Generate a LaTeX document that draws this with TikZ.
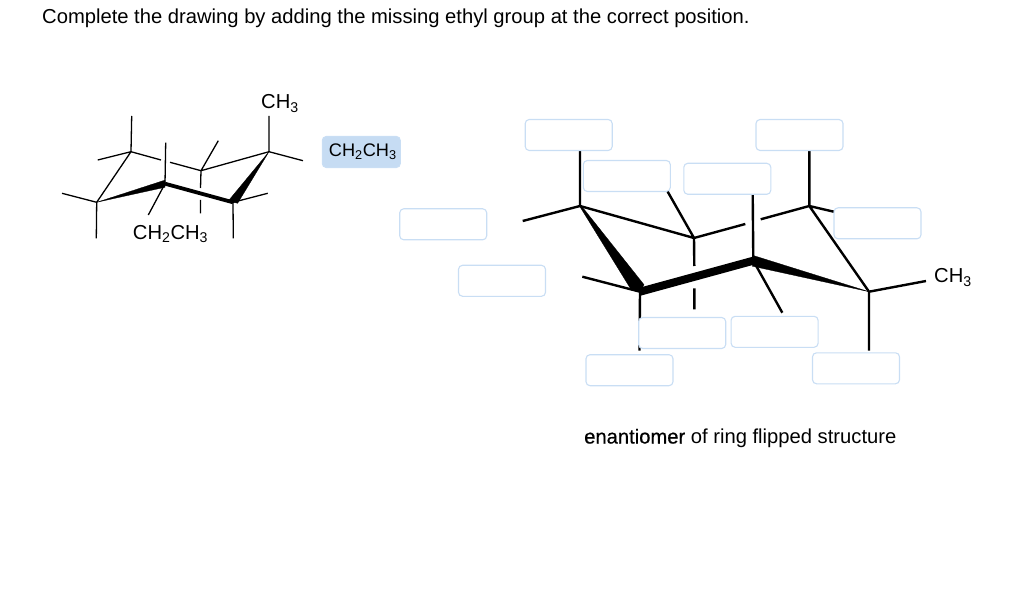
\documentclass[tikz,border=0pt]{standalone}
\usepackage{fontspec}
\setmainfont{Liberation Sans}
\usetikzlibrary{calc}
\definecolor{slotline}{HTML}{C9DEF4}
\definecolor{chipfill}{HTML}{C6DCF3}
\tikzset{
  x=1pt,y=-1pt,
  slot/.style={draw=slotline,line width=1.1pt,fill=white,rounded corners=4pt,minimum width=87pt,minimum height=31pt,inner sep=0pt},
  chip/.style={draw=slotline,line width=1.1pt,fill=chipfill,rounded corners=4pt,minimum width=78pt,minimum height=31pt,inner sep=0pt,font=\fontsize{18.2}{20}\selectfont},
  lbl/.style={inner sep=0pt,font=\fontsize{20.2}{22}\selectfont},
  small/.style={line width=1.3pt,black},
  big/.style={line width=2.4pt,black},
  solidbond/.style={fill=black,draw=black,line width=.3pt,line join=round}
}
\begin{document}
\begin{tikzpicture}
\useasboundingbox (0,0) rectangle (1024,609);
\node[anchor=base west,inner sep=0pt,font=\fontsize{20.2}{22}\selectfont] (title) at (42,24) {Complete the drawing by adding the missing ethyl group at the correct position.};
% left molecule atoms
\coordinate (A) at (131,151.7);
\coordinate (B) at (96.7,202.3);
\coordinate (C) at (165,183.7);
\coordinate (D) at (233,202.3);
\coordinate (E) at (269,151.7);
\coordinate (F) at (201,170.7);
\coordinate (Aup) at (131.7,116);
\coordinate (Al) at (97.7,160);
\coordinate (Ar) at (161,160);
\coordinate (Bl) at (62,193.3);
\coordinate (Bd) at (96.3,238.3);
\coordinate (Cu) at (165.7,142.7);
\coordinate (Cd) at (148.3,215);
\coordinate (Dd) at (233.3,238.3);
\coordinate (Dr) at (267.7,193.3);
\coordinate (Eu) at (269,116);
\coordinate (Er) at (303,160.7);
\coordinate (Fu) at (218.3,140.7);
\coordinate (Fl) at (170,162.3);
\coordinate (Fa) at (200.5,188);
\coordinate (Fb) at (200.5,200);
\coordinate (Fc) at (200.5,213.3);
\draw[small] (A)--(Aup) (A)--(Al) (A)--(Ar) (A)--(B) (B)--(Bl) (B)--(Bd)
  (C)--(Cu) (C)--(Cd) (D)--(Dd) (D)--(Dr) (E)--(Eu) (E)--(Er) (E)--(F)
  (F)--(Fu) (F)--(Fl) (F)--(Fa) (Fb)--(Fc);
\fill[solidbond] (B) -- ($(C)+(0,-3.6)$) -- ($(C)+(0,3.6)$) -- cycle;
\fill[solidbond] (E) -- ($(D)+(-4.6,-1.5)$) -- ($(D)+(4.6,1)$) -- cycle;
\draw[line width=3.8pt,black] (C)--(D);
\node[lbl] (lch3) at (280,103.5) {CH\textsubscript{3}};
\node[lbl] (lethyl) at (170.5,234) {CH\textsubscript{2}CH\textsubscript{3}};
% right molecule atoms
\coordinate (G) at (580,206);
\coordinate (H) at (694,238);
\coordinate (J) at (640,291.7);
\coordinate (K) at (753.3,260.7);
\coordinate (L) at (869,291.7);
\coordinate (M) at (809.3,206);
\coordinate (Gu) at (580,150);
\coordinate (Gl) at (522.7,221);
\coordinate (Hu) at (667.3,191);
\coordinate (Hr) at (745.3,224);
\coordinate (Ha) at (694.3,266);
\coordinate (Hb) at (694.3,288.3);
\coordinate (Hc) at (694.3,309.3);
\coordinate (Jl) at (582.3,276.7);
\coordinate (Jd) at (639.5,350.7);
\coordinate (Ku) at (752.7,194);
\coordinate (Kd) at (782.3,312.7);
\coordinate (Lr) at (926,281);
\coordinate (Ld) at (869,350.7);
\coordinate (Mu) at (809.3,150);
\coordinate (Ml) at (760.7,219.3);
\coordinate (Mr) at (835,212);
\draw[big] (G)--(Gu) (G)--(Gl) (G)--(H) (H)--(Hu) (H)--(Hr) (H)--(Ha) (Hb)--(Hc)
  (J)--(Jl) (J)--(Jd) (K)--(Ku) (K)--(Kd) (L)--(Lr) (L)--(Ld)
  (M)--(Mu) (M)--(Ml) (M)--(Mr) (M)--(L);
\fill[solidbond] ($(G)+(-.5,0)$) -- ($(J)+(-8.5,-1.5)$) -- (J) -- ($(J)+(4,-7)$) -- ($(G)+(1.5,0)$) -- cycle;
\draw[line width=8pt,black] (J)--(K);
\fill[solidbond] (L) -- ($(K)+(-1,-5.5)$) -- ($(K)+(-1,5.5)$) -- cycle;
\node[lbl] (rch3) at (953,277.5) {CH\textsubscript{3}};
% chip and answer slots
\node[chip] (chip) at (361.3,152) {\hspace{3pt}CH\textsubscript{2}CH\textsubscript{3}};
\node[slot] (s1) at (568.7,135) {};
\node[slot] (s2) at (626.8,176) {};
\node[slot] (s3) at (727.3,178.8) {};
\node[slot] (s4) at (799.5,135) {};
\node[slot] (s5) at (877.5,223.3) {};
\node[slot] (s6) at (443.2,224.3) {};
\node[slot] (s7) at (502,280.8) {};
\node[slot] (s8) at (682.2,333) {};
\node[slot] (s9) at (774.6,331.8) {};
\node[slot] (s10) at (629.5,370.2) {};
\node[slot] (s11) at (856,368.3) {};
\node[anchor=base west,inner sep=0pt,font=\fontsize{20.2}{22}\selectfont] (cap) at (584,443.5) {{\addfontfeature{FakeBold=0.6}enantiomer} of ring flipped structure};
\end{tikzpicture}
\end{document}
